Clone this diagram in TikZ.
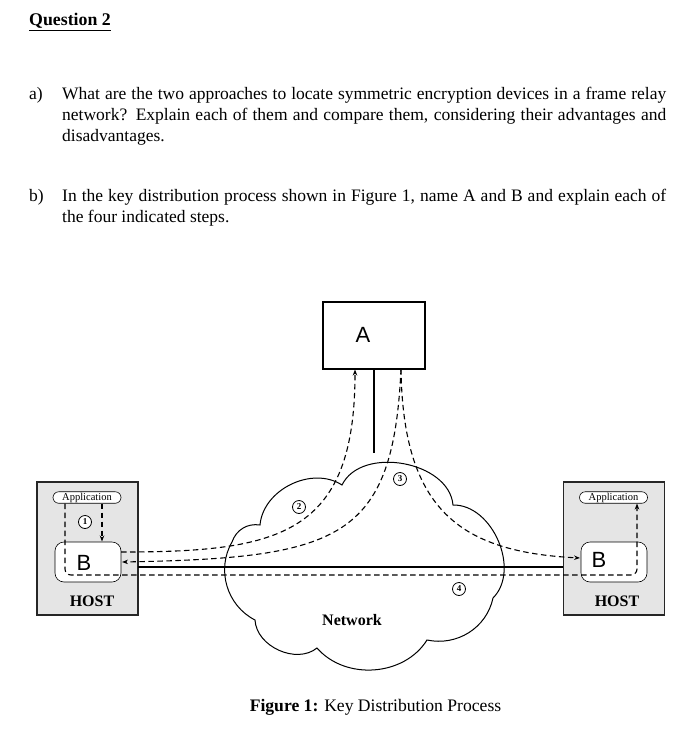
\documentclass[tikz,border=0pt]{standalone}
\usepackage{fontspec}
\setmainfont{Liberation Serif}
\newfontfamily\arialf{Liberation Sans}
\usetikzlibrary{arrows.meta,shapes.misc}
\begin{document}
\begin{tikzpicture}[x=1pt,y=1pt,
  txt/.style={anchor=base west,inner sep=0pt,font=\fontsize{17.5}{20}\selectfont},
  hostbox/.style={draw=black!85,fill=black!10,line width=1.3pt,minimum width=101pt,minimum height=133pt,inner sep=0pt},
  appbox/.style={draw,rounded rectangle,fill=white,line width=0.6pt,minimum width=68pt,minimum height=11.5pt,inner sep=0pt,font=\fontsize{10.5}{11}\selectfont},
  bbox/.style={draw,fill=white,rounded corners=9pt,line width=0.6pt,minimum width=66pt,minimum height=40pt,inner sep=0pt},
  btext/.style={inner sep=0pt,font=\arialf\fontsize{22}{22}\selectfont},
  hosttext/.style={inner sep=0pt,anchor=base,font=\fontsize{16}{16}\selectfont\bfseries},
  dl/.style={dash pattern=on 5.5pt off 3.5pt,line width=1.1pt},
  arr/.style={-{Stealth[length=6pt,width=4.5pt]}},
  stepc/.style={circle,draw,line width=0.8pt,fill=white,inner sep=0pt,minimum size=13pt,font=\fontsize{9}{9}\selectfont\bfseries},
  solidln/.style={line width=1.8pt}
]
\useasboundingbox (0,0) rectangle (682,-736);

% question text
\node[txt,font=\fontsize{17.8}{20}\selectfont\bfseries] (q) at (29,-25.7) {\underline{Question 2}};
\node[txt] (la) at (29,-99.5) {a)};
\node[txt] (a1) at (62,-99.5) {\makebox[604pt][s]{What are the two approaches to locate symmetric encryption devices in a frame relay}};
\node[txt] (a2) at (62,-120.5) {\makebox[604pt][s]{network? Explain each of them and compare them, considering their advantages and}};
\node[txt] (a3) at (62,-141) {disadvantages.};
\node[txt] (lb) at (29,-201.5) {b)};
\node[txt] (b1) at (62,-201.5) {\makebox[604pt][s]{In the key distribution process shown in Figure 1, name A and B and explain each of}};
\node[txt] (b2) at (62,-222) {the four indicated steps.};

% cloud
\draw[line width=1pt,fill=white] (255,-620) to[out=153,in=240] (232,-542) to[out=71,in=171] (260,-525)
  to[out=85,in=147] (342,-485) to[out=64,in=95] (453,-505) to[out=1,in=45] (493,-598)
  to[out=-102,in=-12] (427,-640) to[out=238,in=311] (317,-648) to[out=219,in=273] (255,-620) -- cycle;
\node[inner sep=0pt,anchor=base,font=\fontsize{16}{16}\selectfont\bfseries] (net) at (352,-625.7) {Network};

% A box
\node[draw,line width=1.5pt,fill=white,minimum width=102pt,minimum height=67pt,inner sep=0pt] (A) at (374,-335.5) {};
\node[btext] (At) at (363,-335) {A};
\coordinate (ctop) at (374,-453);
\draw[solidln] (A.south) -- (ctop);

% hosts
\node[hostbox] (hostL) at (87.5,-548.5) {};
\node[hostbox] (hostR) at (614,-548.5) {};
\node[appbox] (appL) at (87,-497.5) {Application};
\node[appbox] (appR) at (613.5,-497.5) {Application};
\node[bbox] (BL) at (88,-562) {};
\node[bbox] (BR) at (614,-562) {};
\node[btext] (BLt) at (84,-563) {B};
\node[btext] (BRt) at (599,-560) {B};
\node[hosttext] (hL) at (92,-606.7) {HOST};
\node[hosttext] (hR) at (617,-606.7) {HOST};

% solid link
\coordinate (hl) at (138,-567);
\coordinate (hr) at (563,-567);
\draw[solidln] (hl) -- (hr);

% dashed flows
\coordinate (s1a) at (102,-503.5);
\coordinate (s1b) at (102,-541.5);
\draw[dl,arr] (s1a) -- (s1b);

\coordinate (s2a) at (121,-552);
\coordinate (s2b) at (355,-369.5);
\draw[dl,arr] (s2a) .. controls (280,-552) and (355,-535) .. (s2b);

\coordinate (s3a) at (401,-369);
\coordinate (s3l) at (122,-562);
\coordinate (s3r) at (580,-558);
\draw[dl,arr] (s3a) .. controls (393,-540) and (340,-558) .. (s3l);
\draw[dl,arr] (s3a) .. controls (403,-510) and (460,-552) .. (s3r);

\coordinate (s4a) at (65,-503.5);
\coordinate (s4b) at (637,-503.5);
\draw[dl,arr,rounded corners=6pt] (s4a) -- (65,-575) -- (637,-575) -- (s4b);

% step circles
\node[stepc] (c1) at (85,-522) {1};
\node[stepc] (c2) at (299,-507) {2};
\node[stepc] (c3) at (400,-479) {3};
\node[stepc] (c4) at (459,-589) {4};

% caption
\node[inner sep=0pt,anchor=base,font=\fontsize{17.6}{18}\selectfont] (cap) at (375.5,-711.5) {\textbf{Figure 1:} Key Distribution Process};
\end{tikzpicture}
\end{document}
